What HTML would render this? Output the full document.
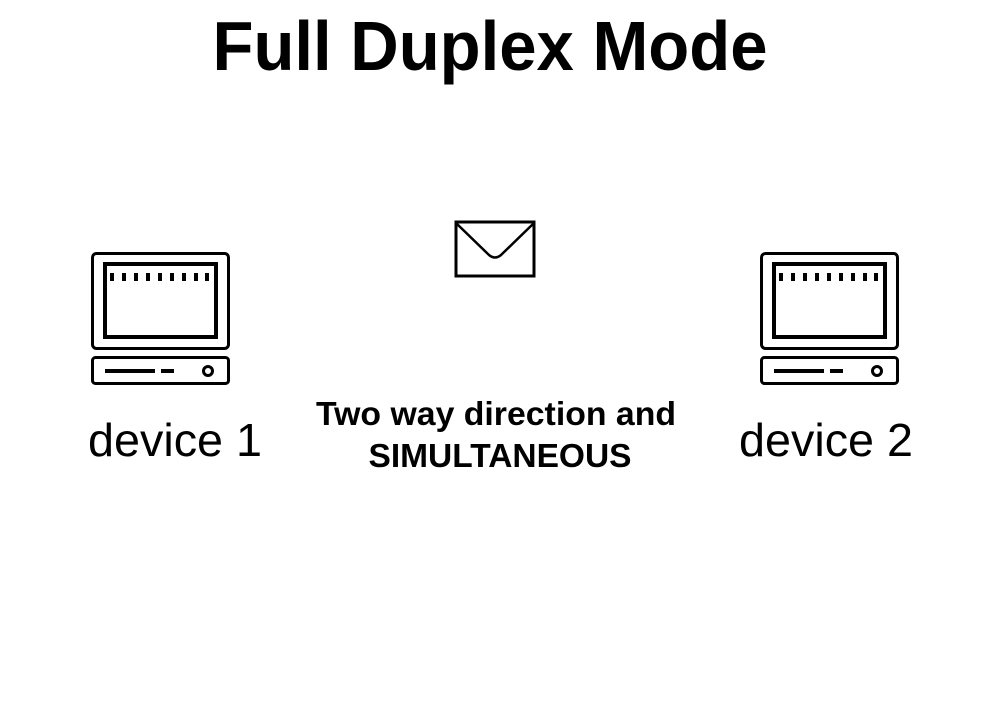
<!DOCTYPE html>
<html><head><meta charset="utf-8"><style>html,body{margin:0;padding:0;background:#fff}svg{display:block}</style></head>
<body>
<svg width="1001" height="712" viewBox="0 0 1001 712" xmlns="http://www.w3.org/2000/svg" font-family="Liberation Sans, sans-serif">
<rect width="1001" height="712" fill="#fff"/>
<text x="490" y="70" font-size="70" font-weight="bold" text-anchor="middle" textLength="555" lengthAdjust="spacingAndGlyphs">Full Duplex Mode</text>
<defs>
<g id="pc" fill="none" stroke="#000">
<rect x="1.5" y="1.5" width="136" height="95" rx="4" stroke-width="3"/>
<rect x="14" y="12" width="111" height="73" stroke-width="4"/>
<g stroke-width="4">
<line x1="21" y1="21" x2="21" y2="29"/><line x1="33" y1="21" x2="33" y2="29"/><line x1="45" y1="21" x2="45" y2="29"/><line x1="57" y1="21" x2="57" y2="29"/><line x1="69" y1="21" x2="69" y2="29"/><line x1="81" y1="21" x2="81" y2="29"/><line x1="93" y1="21" x2="93" y2="29"/><line x1="105" y1="21" x2="105" y2="29"/><line x1="116" y1="21" x2="116" y2="29"/>
</g>
<rect x="1.5" y="105.5" width="136" height="26" rx="3" stroke-width="3"/>
<line x1="14" y1="119" x2="64" y2="119" stroke-width="4"/>
<line x1="70" y1="119" x2="83" y2="119" stroke-width="4"/>
<circle cx="117" cy="119" r="4.5" stroke-width="3"/>
</g>
</defs>
<use href="#pc" x="91" y="252"/>
<use href="#pc" x="760" y="252"/>
<g fill="none" stroke="#000" stroke-width="3">
<rect x="456" y="222" width="78" height="54"/>
<path d="M456 223 L489 255 Q495 260 501 255 L534 223" stroke-width="2.5"/>
</g>
<text x="175" y="456" font-size="46" text-anchor="middle" textLength="174" lengthAdjust="spacingAndGlyphs">device 1</text>
<text x="826" y="456" font-size="46" text-anchor="middle" textLength="174" lengthAdjust="spacingAndGlyphs">device 2</text>
<text x="496" y="425" font-size="33" font-weight="bold" text-anchor="middle" textLength="360" lengthAdjust="spacingAndGlyphs">Two way direction and</text>
<text x="500" y="467" font-size="33" font-weight="bold" text-anchor="middle" textLength="263" lengthAdjust="spacingAndGlyphs">SIMULTANEOUS</text>
</svg>
</body></html>
